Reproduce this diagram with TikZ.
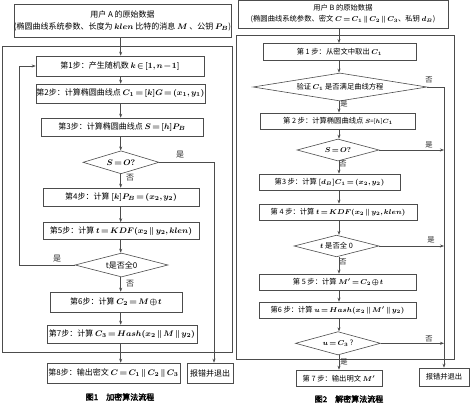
\documentclass[tikz,border=0pt]{standalone}
\usepackage{fontspec}
\setmainfont{Noto Sans CJK SC}[AutoFakeBold=2.5]
\usetikzlibrary{shapes.geometric,arrows.meta}
\newcommand{\tightmath}{\thickmuskip=2.5mu\medmuskip=1.5mu\thinmuskip=2mu}
\newcommand{\fA}{\fontsize{8}{10}\selectfont\boldmath\tightmath}
\newcommand{\fB}{\fontsize{7.3}{9}\selectfont\boldmath\tightmath}
\begin{document}
\begin{tikzpicture}[x=1pt,y=-1pt,
  ln/.style={draw=black!70,line width=0.6pt},
  bx/.style={ln,rectangle,inner sep=0pt,text=black},
  dia/.style={ln,diamond,inner sep=0pt,text=black},
  arr/.style={ln,-{Stealth[length=4pt,width=3pt]}},
  lbl/.style={inner sep=0pt,text=black!85},
  captxt/.style={inner sep=0pt,font=\fA\bfseries},
  FA/.style={font=\fA},
  FB/.style={font=\fB}]
\useasboundingbox (0,0) rectangle (474,405);
% ---------------- left: encryption ----------------
\coordinate (spA) at (120.7,0);
\coordinate (eA) at (214,0);
\coordinate (lpA) at (19,0);
\node[bx,minimum width=229.3pt,minimum height=306pt] (outA) at (117.35,199) {};
\node[bx,FA,minimum width=215pt,minimum height=33pt,align=center] (topA) at (122.5,20.5)
  {用户 A 的原始数据\\[2pt](椭圆曲线系统参数、长度为 $klen$ 比特的消息 $M$ 、公钥 $P_B$)};
\node[bx,FA,minimum width=168pt,minimum height=20pt] (s1) at (120,66) {第1步：产生随机数 $k\in[1,n-1]$};
\node[bx,FA,minimum width=169pt,minimum height=19pt] (s2) at (120.5,93.5) {第2步：计算椭圆曲线点 $C_1=[k]G=(x_1,y_1)$};
\node[bx,FA,minimum width=162pt,minimum height=18pt] (s3) at (122,127) {第3步：计算椭圆曲线点 $S=[h]P_B$};
\node[dia,FA,minimum width=76pt,minimum height=23pt,aspect=3.3] (d1) at (121,162.3) {$S=O?$};
\node[bx,FA,minimum width=156pt,minimum height=18pt] (s4) at (121,197) {第4步：计算 $[k]P_B=(x_2,y_2)$};
\node[bx,FA,minimum width=156pt,minimum height=17pt] (s5) at (121,231) {第5步：计算 $t=KDF(x_2\parallel y_2,klen)$};
\node[dia,FA,minimum width=93pt,minimum height=24pt,aspect=3.9] (d2) at (121.5,265) {t是否全0};
\node[bx,FA,minimum width=132pt,minimum height=20pt] (s6) at (116,302) {第6步：计算 $C_2=M\oplus t$};
\node[bx,FA,minimum width=150pt,minimum height=18pt] (s7) at (122,334) {第7步：计算 $C_3=Hash(x_2\parallel M\parallel y_2)$};
\node[bx,FA,minimum width=133pt,minimum height=20pt] (s8) at (113.5,373) {第8步：输出密文 $C=C_1\parallel C_2\parallel C_3$};
\node[bx,FA,minimum width=46pt,minimum height=20pt] (errA) at (210,373) {报错并退出};
\node[captxt] (capA) at (120,397) {图1\quad 加密算法流程};
\draw[arr] (topA.south -| spA) -- (s1.north -| spA);
\draw[arr] (s1.south -| spA) -- (s2.north -| spA);
\draw[arr] (s2.south -| spA) -- (s3.north -| spA);
\draw[arr] (s3.south -| spA) -- (d1.north -| spA);
\draw[arr] (d1.south -| spA) -- (s4.north -| spA);
\draw[arr] (s4.south -| spA) -- (s5.north -| spA);
\draw[arr] (s5.south -| spA) -- (d2.north -| spA);
\draw[arr] (d2.south -| spA) -- (s6.north -| spA);
\draw[arr] (s6.south -| spA) -- (s7.north -| spA);
\draw[arr] (s7.south -| spA) -- (s8.north -| spA);
\draw[arr] (d1.east) -| (errA.north -| eA);
\draw[arr] (d2.west) -- (d2.west -| lpA) |- (s1.west);
\node[lbl,FA] (yA1) at (180,155) {是};
\node[lbl,FA] (nA1) at (130,178) {否};
\node[lbl,FA] (yA2) at (57,259) {是};
\node[lbl,FA] (nA2) at (130,284) {否};
% ---------------- right: decryption ----------------
\coordinate (spB) at (339,0);
\coordinate (eB) at (444,0);
\node[bx,minimum width=217.3pt,minimum height=324pt] (outB) at (345.35,197) {};
\node[bx,FB,minimum width=210pt,minimum height=27.7pt,align=center] (topB) at (343,14.2)
  {用户 B 的原始数据\\[2pt](椭圆曲线系统参数、密文 $C=C_1\parallel C_2\parallel C_3$、私钥 $d_B$)};
\node[bx,FB,minimum width=153pt,minimum height=16.7pt] (t1) at (339.5,51.7) {第 1 步：从密文中取出 $C_1$};
\node[dia,FB,minimum width=174pt,minimum height=28pt,aspect=6.2] (e1) at (340,87) {验证 $C_1$ 是否满足曲线方程};
\node[bx,FB,minimum width=155pt,minimum height=16.3pt] (t2) at (338,121) {第 2 步：计算椭圆曲线点 {\fontsize{6}{7}\selectfont$S$=[$h$]$C_1$}};
\node[dia,FB,minimum width=82pt,minimum height=22pt,aspect=3.7] (e2) at (338,150) {$S=O?$};
\node[bx,FB,minimum width=141pt,minimum height=16.7pt] (t3) at (329.5,182.3) {第3 步：计算 $[d_B]C_1=(x_2,y_2)$};
\node[bx,FB,minimum width=157.7pt,minimum height=16.7pt] (t4) at (338,212.3) {第 4 步：计算 $t=KDF(x_2\parallel y_2,klen)$};
\node[dia,FB,minimum width=85pt,minimum height=21.7pt,aspect=3.9] (e3) at (336.5,246) {$t$ 是否全 0};
\node[bx,FB,minimum width=156.7pt,minimum height=16pt] (t5) at (338,282) {第 5 步：计算 $M'=C_2\oplus t$};
\node[bx,FB,minimum width=157pt,minimum height=16pt] (t6) at (337.5,310) {第6 步：计算 $u=Hash(x_2\parallel M'\parallel y_2)$};
\node[dia,FB,minimum width=85pt,minimum height=23.3pt,aspect=3.6] (e4) at (338,343.3) {$u=C_3$ ?};
\node[bx,FB,minimum width=86.3pt,minimum height=16.7pt] (t7) at (339,378.3) {第 7 步：输出明文 $M'$};
\node[bx,FB,minimum width=50pt,minimum height=18pt] (errB) at (444,377) {报错并退出};
\node[captxt] (capB) at (349,399) {图2\quad 解密算法流程};
\draw[arr] (topB.south -| spB) -- (t1.north -| spB);
\draw[arr] (t1.south -| spB) -- (e1.north -| spB);
\draw[arr] (e1.south -| spB) -- (t2.north -| spB);
\draw[arr] (t2.south -| spB) -- (e2.north -| spB);
\draw[arr] (e2.south -| spB) -- (t3.north -| spB);
\draw[arr] (t3.south -| spB) -- (t4.north -| spB);
\draw[arr] (t4.south -| spB) -- (e3.north -| spB);
\draw[arr] (e3.south -| spB) -- (t5.north -| spB);
\draw[arr] (t5.south -| spB) -- (t6.north -| spB);
\draw[arr] (t6.south -| spB) -- (e4.north -| spB);
\draw[arr] (e4.south -| spB) -- (t7.north -| spB);
\draw[arr] (e1.east) -| (errB.north -| eB);
\draw[arr] (e2.east) -- (e2.east -| eB);
\draw[arr] (e3.east) -- (e3.east -| eB);
\draw[arr] (e4.east) -- (e4.east -| eB);
\node[lbl,FB] (nB1) at (429,80) {否};
\node[lbl,FB] (yB1) at (344,104) {是};
\node[lbl,FB] (yB2) at (429,145) {是};
\node[lbl,FB] (nB2) at (343,164) {否};
\node[lbl,FB] (yB3) at (431,240) {是};
\node[lbl,FB] (nB3) at (343,262) {否};
\node[lbl,FB] (nB4) at (429,339) {否};
\node[lbl,FB] (yB4) at (344,362) {是};
\end{tikzpicture}
\end{document}
